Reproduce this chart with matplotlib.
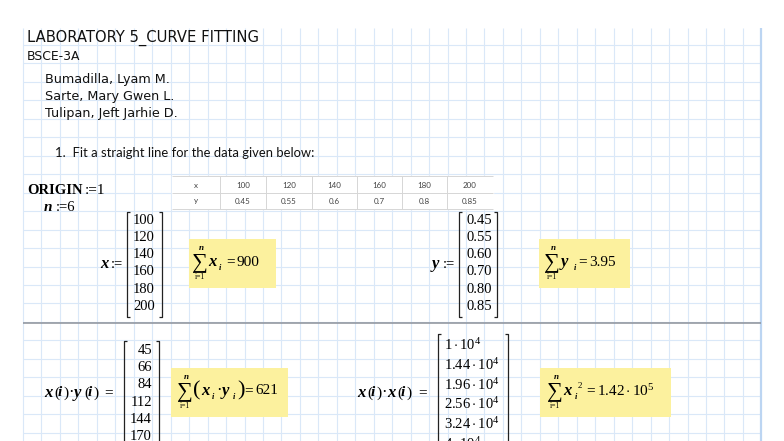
import matplotlib.pyplot as plt

# worksheet data (Mathcad laboratory sheet)
x_vals = [100, 120, 140, 160, 180, 200]
y_vals = [0.45, 0.55, 0.60, 0.70, 0.80, 0.85]
xy_vals = [45, 66, 84, 112, 144, 170]
xsq_labels = [r"$1\cdot10^{4}$", r"$1.44\cdot10^{4}$", r"$1.96\cdot10^{4}$",
              r"$2.56\cdot10^{4}$", r"$3.24\cdot10^{4}$", r"$4\cdot10^{4}$"]
n_pts = 6
sum_x = 900
sum_y = 3.95
sum_xy = 621
sum_xsq = r"$1.42\cdot10^{5}$"
names = ["Bumadilla, Lyam M.", "Sarte, Mary Gwen L.", "Tulipan, Jeft Jarhie D."]

plt.rcParams.update({
    "mathtext.fontset": "custom",
    "mathtext.rm": "Liberation Serif",
    "mathtext.it": "Liberation Serif:italic",
    "mathtext.bf": "Liberation Serif:bold",
})

W, H = 784, 441
fig = plt.figure(figsize=(W / 100, H / 100), dpi=100)
ax = fig.add_axes([0, 0, 1, 1])
ax.set_xlim(0, W)
ax.set_ylim(H, 0)
ax.axis("off")

GRID = "#dae8f8"
YELLOW = "#fcf19e"
SERIF = "Liberation Serif"
VAR = dict(family=SERIF, weight="bold", style="italic")

# grid paper
gx0, gy0, step, right = 23, 45, 18.46, 761
k = 0
while gx0 + k * step < right - 2:
    ax.vlines(gx0 + k * step, 28, H, color=GRID, lw=0.8, zorder=0)
    k += 1
k = 0
while gy0 + k * step < H:
    ax.hlines(gy0 + k * step, gx0, right, color=GRID, lw=0.8, zorder=0)
    k += 1
ax.vlines(right, 28, H, color="#bcd5f2", lw=1.6, zorder=1)
ax.hlines(323, gx0, right, color="#8c9199", lw=1.1, zorder=1)

# header text
ax.text(27, 42, "LABORATORY 5_CURVE FITTING", fontsize=10.6, family="DejaVu Sans",
        va="baseline", color="#111111")
ax.text(27, 60, "BSCE-3A", fontsize=8.9, family="DejaVu Sans", va="baseline", color="#111111")
for i, name in enumerate(names):
    ax.text(45, 83 + i * 17, name, fontsize=9.2, family="DejaVu Sans", va="baseline",
            color="#111111")
ax.text(55, 157, "1.  Fit a straight line for the data given below:", fontsize=9.4,
        family="Lato", va="baseline", color="#111111")

# small data table
tx = [172, 220, 266, 312, 357, 402, 447, 493]
ty = [176, 193, 209]
ax.fill_between([tx[0], tx[-1]], ty[0], ty[-1], color="white", zorder=2)
ax.hlines(ty, tx[0], tx[-1], color="#d6d6d6", lw=0.7, zorder=3)
ax.vlines(tx[1:-1], ty[0], ty[-1], color="#d6d6d6", lw=0.7, zorder=3)
row_x = ["x"] + [str(v) for v in x_vals]
row_y = ["y"] + [f"{v:g}" for v in y_vals]
for j in range(len(row_x)):
    cx = (tx[j] + tx[j + 1]) / 2
    ax.text(cx, 185.5, row_x[j], fontsize=5.8, family="Lato", ha="center", va="center",
            color="#444444", zorder=4)
    ax.text(cx, 201, row_y[j], fontsize=5.8, family="Lato", ha="center", va="center",
            color="#444444", zorder=4)


def pieces(y, items):
    # items: (x, text, kind, dy, size)
    for x, s, kind, dy, size in items:
        kw = VAR if kind == "v" else dict(family=SERIF)
        ax.text(x, y + dy, s, fontsize=size, va="center", zorder=4, **kw)


def bracket(x0, x1, y0, y1):
    t = 3
    ax.plot([x0 + t, x0, x0, x0 + t], [y0, y0, y1, y1], color="#222222", lw=0.9,
            solid_capstyle="butt", zorder=3)
    ax.plot([x1 - t, x1, x1, x1 - t], [y0, y0, y1, y1], color="#222222", lw=0.9,
            solid_capstyle="butt", zorder=3)


def sigma(xc, yc):
    ax.text(xc, yc, "\u2211", fontsize=16, family=[SERIF, "DejaVu Serif"], ha="center",
            va="center", zorder=4)
    ax.text(xc + 1, yc - 15, "n", fontsize=6.5, ha="center", va="center", zorder=4, **VAR)
    ax.text(xc, yc + 14, "i=1", fontsize=5.5, family=SERIF, ha="center", va="center",
            zorder=4)


def box(x0, x1, y0, y1):
    ax.fill_between([x0, x1], y0, y1, color=YELLOW, zorder=2, lw=0)


# ORIGIN and n
ax.text(27, 190, "ORIGIN", fontsize=10.5, family=SERIF, weight="bold", va="center")
ax.text(85, 190, ":=1", fontsize=11, family=SERIF, va="center")
ax.text(44, 207.5, "n", fontsize=11, va="center", **VAR)
ax.text(56, 207.5, ":=6", fontsize=10.5, family=SERIF, va="center")

# x vector
ax.text(100, 264, "x", fontsize=12, va="center", **VAR)
ax.text(111, 264, ":=", fontsize=10.5, family=SERIF, va="center")
bracket(127, 162, 212, 317)
for i, v in enumerate(x_vals):
    ax.text(155, 220 + i * 17.3, str(v), fontsize=10.5, family=SERIF, ha="right",
            va="center")

box(189, 276, 239, 288)
sigma(200, 263)
pieces(262, [(208, "x", "v", 0, 12), (219, "i", "v", 6, 6), (226, "=", "r", 0, 11),
             (237, f"{sum_x}", "r", 0, 11)])

# y vector
ax.text(432, 264, "y", fontsize=12, va="center", **VAR)
ax.text(443, 264, ":=", fontsize=10.5, family=SERIF, va="center")
bracket(459, 497, 212, 317)
for i, v in enumerate(y_vals):
    ax.text(492, 220 + i * 17.3, f"{v:.2f}", fontsize=10.5, family=SERIF, ha="right",
            va="center")

box(539, 630, 239, 288)
sigma(552, 263)
pieces(262, [(561, "y", "v", 0, 12), (574, "i", "v", 6, 6), (578, "=", "r", 0, 11),
             (589, f"{sum_y:.2f}", "r", 0, 11)])

# x(i)*y(i)
pieces(393, [(44, "x", "v", 0, 12), (54, "(", "r", 0, 11), (58, "i", "v", 0, 11),
             (63, ")", "r", 0, 11), (68, "\u00b7", "r", 0, 12), (74, "y", "v", 0, 12),
             (84, "(", "r", 0, 11), (88, "i", "v", 0, 11), (93, ")", "r", 0, 11),
             (104, "=", "r", 0, 11)])
bracket(124, 159, 341, 460)
for i, v in enumerate(xy_vals):
    ax.text(152, 350 + i * 17.4, str(v), fontsize=10.5, family=SERIF, ha="right",
            va="center")

box(171, 288, 368, 417)
sigma(185, 392)
pieces(391, [(193, "(", "r", 0, 16), (201, "x", "v", 0, 12), (212, "i", "v", 6, 6),
             (216, "\u00b7", "r", 0, 12), (222, "y", "v", 0, 12), (233, "i", "v", 6, 6),
             (237, ")", "r", 0, 16), (244, "=", "r", 0, 11), (255, f"{sum_xy}", "r", 0, 11)])

# x(i)*x(i)
pieces(393, [(357, "x", "v", 0, 12), (367, "(", "r", 0, 11), (371, "i", "v", 0, 11),
             (376, ")", "r", 0, 11), (381, "\u00b7", "r", 0, 12), (387, "x", "v", 0, 12),
             (397, "(", "r", 0, 11), (401, "i", "v", 0, 11), (406, ")", "r", 0, 11),
             (418, "=", "r", 0, 11)])
bracket(438, 508, 334, 460)
for i, lab in enumerate(xsq_labels):
    ax.text(444, 345 + i * 19.8, lab, fontsize=10.5, ha="left", va="center")

box(540, 671, 368, 417)
sigma(555, 392)
pieces(391, [(563, "x", "v", 0, 12), (575, "i", "v", 6, 6), (578, "2", "r", -5, 6.5),
             (586, "=", "r", 0, 11), (597, sum_xsq, "r", 0, 11)])

fig.savefig("out.png", dpi=100)
